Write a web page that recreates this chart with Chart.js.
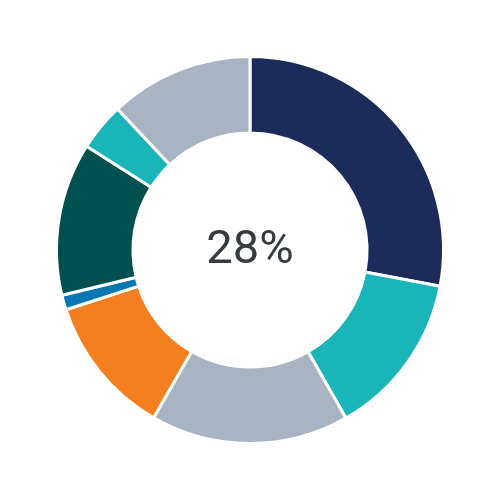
<!DOCTYPE html>
<html>
<head>
<meta charset="utf-8">
<script src="https://cdn.jsdelivr.net/npm/chart.js@4/dist/chart.umd.min.js"></script>
<style>
html,body{margin:0;padding:0;background:#fff;}
#wrap{position:relative;width:500px;height:500px;}
#center{position:absolute;left:0;top:0;width:500px;height:500px;display:flex;align-items:center;justify-content:center;font-family:Roboto,sans-serif;font-size:47px;color:#343b41;pointer-events:none;}
</style>
</head>
<body>
<div id="wrap">
<canvas id="c" width="500" height="500"></canvas>
<div id="center"><span id="ct" style="margin-top:-7px"></span></div>
</div>
<script>
const categories = ["A","B","C","D","E","F","G","H"];
const values = [28, 13.75, 16.55, 11.7, 1.25, 12.75, 4.0, 12.0];
const colors = ["#1c2b5a","#1ab5b8","#a9b4c2","#f47f20","#0a77b5","#00504f","#1ab5b8","#a9b4c2"];
const centerLabel = "28%";
document.getElementById('ct').textContent = centerLabel;
new Chart(document.getElementById('c'), {
  type: 'doughnut',
  data: { labels: categories, datasets: [{ data: values, backgroundColor: colors, borderColor: '#ffffff', borderWidth: 3 }] },
  options: {
    responsive: false,
    animation: false,
    cutout: '60.5%',
    layout: { padding: 55 },
    plugins: { legend: { display: false }, tooltip: { enabled: false } }
  }
});
</script>
</body>
</html>
